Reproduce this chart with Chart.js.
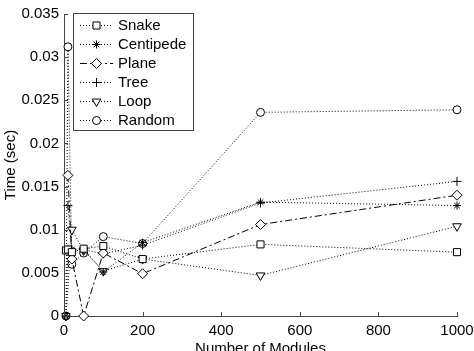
<!DOCTYPE html>
<html>
<head>
<meta charset="utf-8">
<script src="https://cdn.jsdelivr.net/npm/chart.js@4.4.1/dist/chart.umd.min.js"></script>
<style>
html, body { margin: 0; padding: 0; background: #fff; overflow: hidden; }
#wrap { position: relative; width: 490px; height: 362px; }
</style>
</head>
<body>
<div id="wrap"><canvas id="timeChart"></canvas></div>
<script>
// number of modules (x) and run time in seconds for each shape
var modules = [5, 10, 20, 50, 100, 200, 500, 1000];
var snake = [0.0076, 0.0077, 0.0074, 0.0078, 0.0081, 0.0066, 0.0083, 0.0074];
var centipede = [0, 0.0078, 0.0077, 0.0078, 0.0051, 0.0085, 0.0132, 0.0128];
var plane = [null, 0.0163, 0.0066, 0, 0.0073, 0.0049, 0.0106, 0.014];
var tree = [null, 0.0128, 0.0075, 0.0077, 0.0072, 0.0082, 0.0131, 0.0156];
var loop = [0, null, 0.01, 0.0076, 0.0052, 0.0066, 0.0047, 0.0104];
var random = [0, 0.0312, 0.006, 0.0073, 0.0092, 0.0084, 0.0236, 0.0239];
var yTicks = [0, 0.005, 0.01, 0.015, 0.02, 0.025, 0.03, 0.035];

var FONT = "'Liberation Sans', Arial, sans-serif";
var AXIS = "#444";

function pts(vals) {
  var out = [];
  for (var i = 0; i < modules.length; i++) {
    if (vals[i] !== null) out.push({ x: modules[i], y: vals[i] });
  }
  return out;
}

function series(label, vals, style, radius, dash, rot) {
  return {
    label: label,
    data: pts(vals),
    borderColor: "#000",
    borderWidth: 1,
    borderDash: dash,
    pointStyle: style,
    pointRadius: radius,
    pointRotation: rot || 0,
    pointBorderColor: "#000",
    pointBackgroundColor: "#fff",
    pointBorderWidth: 1,
    tension: 0,
    fill: false,
    clip: false
  };
}

var dotted = [1, 2];

var insideLegend = {
  id: "insideLegend",
  afterDraw: function(chart) {
    var ctx = chart.ctx;
    ctx.save();
    ctx.fillStyle = "#fff";
    ctx.fillRect(73, 13, 120, 117);
    ctx.strokeStyle = AXIS;
    ctx.lineWidth = 1;
    ctx.strokeRect(73.5, 13.5, 120, 117);
    chart.data.datasets.forEach(function(ds, i) {
      var y = 25 + i * 19;
      ctx.beginPath();
      ctx.setLineDash(ds.borderDash);
      ctx.strokeStyle = "#000";
      ctx.lineWidth = ds.borderWidth;
      ctx.moveTo(80, y + 0.5);
      ctx.lineTo(113, y + 0.5);
      ctx.stroke();
      ctx.setLineDash([]);
      ctx.fillStyle = "#fff";
      ctx.strokeStyle = "#000";
      ctx.lineWidth = 1;
      Chart.helpers.drawPoint(ctx, {
        pointStyle: ds.pointStyle,
        radius: ds.pointRadius,
        rotation: ds.pointRotation,
        borderWidth: 1
      }, 96.5, y + 0.5);
      ctx.fillStyle = "#000";
      ctx.font = "15px " + FONT;
      ctx.textBaseline = "middle";
      ctx.textAlign = "left";
      ctx.fillText(ds.label, 118, y + 1);
    });
    ctx.restore();
  }
};

var inTicks = {
  id: "inTicks",
  afterDraw: function(chart) {
    var ctx = chart.ctx, xs = chart.scales.x, ys = chart.scales.y, a = chart.chartArea;
    ctx.save();
    ctx.strokeStyle = AXIS;
    ctx.lineWidth = 1;
    ctx.beginPath();
    xs.ticks.forEach(function(t) {
      var px = Math.round(xs.getPixelForValue(t.value)) + 0.5;
      ctx.moveTo(px, a.bottom);
      ctx.lineTo(px, a.bottom - 4);
    });
    ys.ticks.forEach(function(t) {
      var py = Math.round(ys.getPixelForValue(t.value)) + 0.5;
      ctx.moveTo(a.left, py);
      ctx.lineTo(a.left + 4, py);
    });
    ctx.stroke();
    ctx.restore();
  }
};

var ctx = document.getElementById("timeChart").getContext("2d");
new Chart(ctx, {
  type: "line",
  data: {
    datasets: [
      series("Snake", snake, "rect", 5, dotted),
      series("Centipede", centipede, "star", 4, dotted),
      series("Plane", plane, "rectRot", 5, [7, 3, 2, 3]),
      series("Tree", tree, "cross", 4.5, dotted),
      series("Loop", loop, "triangle", 5, dotted, 180),
      series("Random", random, "circle", 4, dotted)
    ]
  },
  options: {
    responsive: true,
    maintainAspectRatio: false,
    animation: false,
    layout: { padding: { left: 0, top: 8, right: 33, bottom: 0 } },
    plugins: {
      legend: { display: false },
      tooltip: { enabled: false }
    },
    scales: {
      x: {
        type: "linear",
        min: 0,
        max: 1000,
        afterFit: function(s) { s.height = 46; },
        ticks: {
          stepSize: 200,
          color: "#000",
          padding: 6,
          font: { family: FONT, size: 15 },
          callback: function(v) { return String(v); }
        },
        grid: { display: true, drawOnChartArea: false, drawTicks: false, color: AXIS },
        border: { display: true, color: AXIS, width: 1 },
        title: { display: true, text: "Number of Modules", color: "#000", font: { family: FONT, size: 15 }, padding: { top: 2, bottom: 4 } }
      },
      y: {
        type: "linear",
        min: 0,
        max: 0.035,
        afterFit: function(s) { s.width = 64; },
        afterBuildTicks: function(s) { s.ticks = yTicks.map(function(v) { return { value: v }; }); },
        ticks: {
          color: "#000",
          padding: 5,
          font: { family: FONT, size: 15 },
          callback: function(v) { return String(parseFloat(Number(v).toFixed(3))); }
        },
        grid: { display: true, drawOnChartArea: false, drawTicks: false, color: AXIS },
        border: { display: true, color: AXIS, width: 1 },
        title: { display: true, text: "Time (sec)", color: "#000", font: { family: FONT, size: 15 }, padding: { top: 2, bottom: 2 } }
      }
    }
  },
  plugins: [insideLegend, inTicks]
});
</script>
</body>
</html>
